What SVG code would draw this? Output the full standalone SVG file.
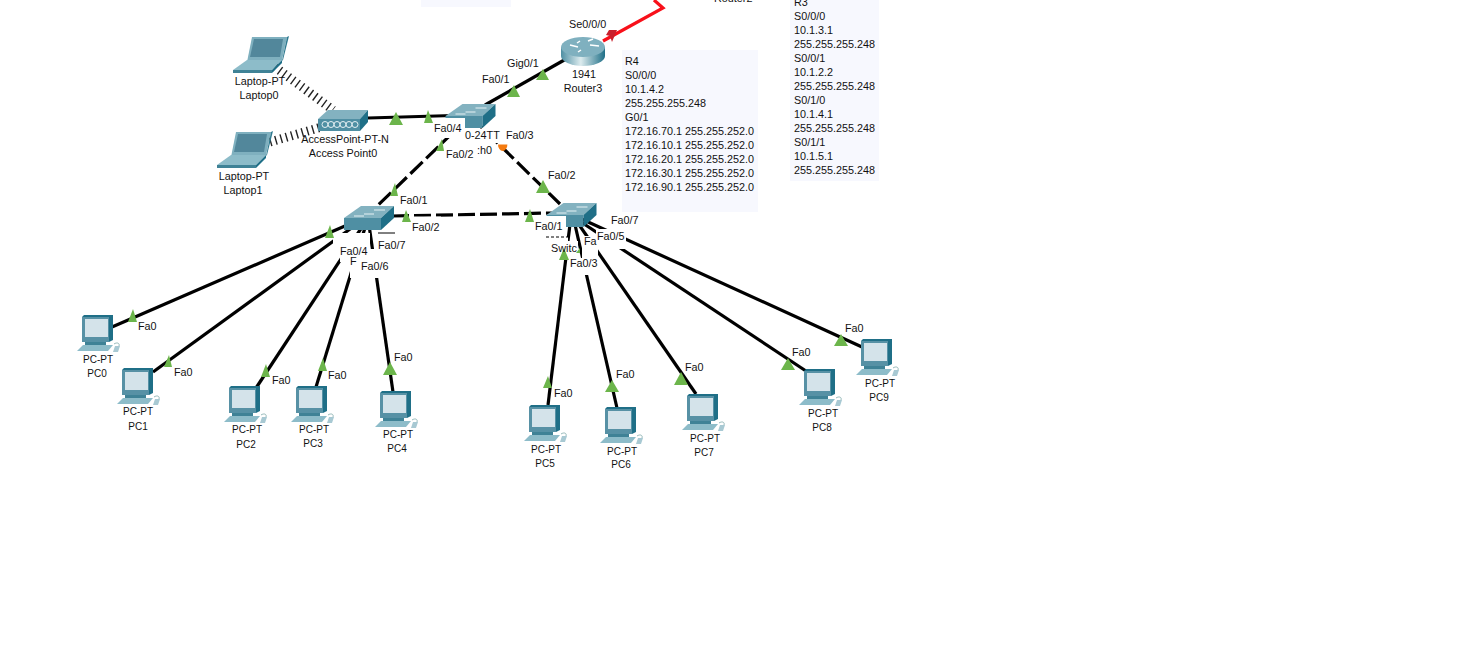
<svg xmlns="http://www.w3.org/2000/svg" width="1458" height="660" viewBox="0 0 1458 660">
<style>
text{font-family:"Liberation Sans",Arial,sans-serif;font-size:10.8px;fill:#111}
text.p{font-size:10px}
.c{text-anchor:middle}
.l{fill:none;stroke:#000;stroke-width:3.2}
.d{stroke-dasharray:17 5}
.w{fill:none;stroke:#222;stroke-width:9;stroke-dasharray:1.4 4.1}
.g{fill:#6cb54b}
.note{fill:#f7f8fe}
.bg{fill:#fff}
</style>
<defs>
<linearGradient id="rt" x1="0" x2="1" y1="0" y2="0"><stop offset="0" stop-color="#4f8fa3"/><stop offset=".45" stop-color="#dcebee"/><stop offset="1" stop-color="#1f6f87"/></linearGradient>
<g id="pc">
<path d="M-10-17H19V8L15 10V-15H-12z" fill="#1f6f87"/>
<path d="M-12-15H15V10H-12z" fill="#5791a5"/>
<rect x="-9" y="-13" width="23" height="18" fill="#d4e3ea"/>
<path d="M-9 10H12V13H-9z" fill="#3f8296"/>
<path d="M-11 13H19L14 19H-17z" fill="#8dbcc9"/>
<path d="M19 20l2-6h5l-2 6z" fill="#a8c9d3"/><path d="M20 12c3-2 6-1 5 2" fill="none" stroke="#9bb" stroke-width="1"/>
</g>
<g id="lap">
<path d="M-11-21H24L19 2L-16 4z" fill="#7fb0bf"/><path d="M24-21l2-1-6 24-1 1z" fill="#2f7a90"/><path d="M-9-19H20L17-1H-13z" fill="#52879b"/>
<path d="M-16 2H19L9 12H-30z" fill="#8dbcc9"/><path d="M-30 12H9V15H-30z" fill="#3f8296"/><path d="M9 12L19 2V5L9 15z" fill="#1f6f87"/>
</g>
<g id="sw">
<path d="M-25 0L-8-12H25L12 0z" fill="#83b2c0"/><path d="M-25 0H12V12H-25z" fill="#4f8fa3"/><path d="M12 0L25-12V0L12 12z" fill="#1f6f87"/>
<path d="M-5-4H5M5-8H16M-15-2H-5" stroke="#e5f1f4" stroke-width="1"/>
</g>
</defs>
<rect width="1458" height="660" fill="#fff"/>
<g id="notes">
<rect class="note" x="421" y="0" width="90" height="7"/>
<rect class="note" x="622" y="50" width="136" height="162"/>
<rect class="note" x="790" y="0" width="89" height="181"/>
</g>
<g id="connectors">
<path d="M603 41L663 8L654 0" fill="none" stroke="#f8101a" stroke-width="3.2"/>
<path class="l" d="M368 118L470 115"/>
<path class="l" d="M485 105L566 59"/>
<path class="l d" d="M470 116L560 204"/>
<path class="l d" d="M470 116L372 211"/>
<path class="l d" d="M392 216L553 213"/>
<path class="l" d="M112 327L368 216"/>
<path class="l" d="M153 372L368 216"/>
<path class="l" d="M256 388L368 218"/>
<path class="l" d="M316 387L368 218"/>
<path class="l" d="M393 392L368 218"/>
<path class="l" d="M548 405L571 216"/>
<path class="l" d="M617 408L573 216"/>
<path class="l" d="M696 394L573 216"/>
<path class="l" d="M806 371L572 216"/>
<path class="l" d="M862 347L575 216"/>
<path class="w" d="M275 67L333 110"/>
<path class="w" d="M270 142L325 126"/>
</g>
<g id="Laptop0"><use href="#lap" x="263" y="58"/><text class="c" x="260" y="85">Laptop-PT</text><text class="c" x="259" y="99">Laptop0</text></g>
<g id="Laptop1"><use href="#lap" x="247" y="153"/><text class="c" x="244" y="180">Laptop-PT</text><text class="c" x="243" y="194">Laptop1</text></g>
<g id="AccessPoint0">
<path d="M318 119L328 110H368L360 119z" fill="#83b2c0"/><path d="M318 119H360V131H318z" fill="#4f8fa3"/><path d="M360 119L368 110V122L360 131z" fill="#1f6f87"/>
<g fill="none" stroke="#e5f1f4" stroke-width="1"><circle cx="325" cy="124.500" r="3"/><circle cx="331" cy="124.500" r="3"/><circle cx="337" cy="124.500" r="3"/><circle cx="343" cy="124.500" r="3"/><circle cx="349" cy="124.500" r="3"/><circle cx="355" cy="124.500" r="3"/></g>
<text class="c" x="345" y="143">AccessPoint-PT-N</text><text class="c" x="343" y="157">Access Point0</text>
</g>
<g id="Router3">
<ellipse cx="583" cy="56" rx="22" ry="10" fill="url(#rt)"/><path d="M561 47H605V56H561z" fill="url(#rt)"/><ellipse cx="583" cy="47" rx="22" ry="10" fill="#7fb0bf"/>
<path d="M570 45l8 2M580 41l-3 2M590 45l9 1M588 41l5-2M581 50l-3 2" stroke="#fff" stroke-width="1.500"/>
<text class="c" x="584" y="78">1941</text><text class="c" x="583" y="92">Router3</text>
</g>
<g id="Switch0"><use href="#sw" x="470.500" y="116"/></g>
<g id="Switch1"><use href="#sw" x="369" y="218"/></g>
<g id="Switch2"><use href="#sw" x="571.500" y="215"/></g>
<g id="PC0"><use href="#pc" x="94" y="332"/><text class="c p" x="98" y="363">PC-PT</text><text class="c p" x="97" y="377">PC0</text></g>
<g id="PC1"><use href="#pc" x="134" y="385"/><text class="c p" x="138" y="415">PC-PT</text><text class="c p" x="138" y="430">PC1</text></g>
<g id="PC2"><use href="#pc" x="241" y="403"/><text class="c p" x="247" y="433">PC-PT</text><text class="c p" x="246" y="448">PC2</text></g>
<g id="PC3"><use href="#pc" x="308" y="403"/><text class="c p" x="314" y="433">PC-PT</text><text class="c p" x="313" y="447">PC3</text></g>
<g id="PC4"><use href="#pc" x="392" y="408"/><text class="c p" x="398" y="438">PC-PT</text><text class="c p" x="397" y="452">PC4</text></g>
<g id="PC5"><use href="#pc" x="541" y="422"/><text class="c p" x="546" y="453">PC-PT</text><text class="c p" x="545" y="467">PC5</text></g>
<g id="PC6"><use href="#pc" x="617" y="424"/><text class="c p" x="622" y="455">PC-PT</text><text class="c p" x="621" y="468">PC6</text></g>
<g id="PC7"><use href="#pc" x="699" y="411"/><text class="c p" x="705" y="442">PC-PT</text><text class="c p" x="704" y="456">PC7</text></g>
<g id="PC8"><use href="#pc" x="816" y="386"/><text class="c p" x="823" y="417">PC-PT</text><text class="c p" x="822" y="431">PC8</text></g>
<g id="PC9"><use href="#pc" x="873" y="356"/><text class="c p" x="880" y="387">PC-PT</text><text class="c p" x="879" y="401">PC9</text></g>
<g id="label-backgrounds">
<rect class="bg" x="433" y="118" width="32" height="20"/>
<rect class="bg" x="445" y="146" width="30" height="17"/>
<rect class="bg" x="464" y="129" width="36" height="14"/>
<rect class="bg" x="476" y="142" width="16" height="13"/>
<rect class="bg" x="505" y="129" width="30" height="14"/>
<rect class="bg" x="411" y="216.500" width="30" height="18"/>
<rect class="bg" x="398" y="195" width="30" height="14"/>
<rect class="bg" x="333" y="233" width="37" height="18"/>
<rect class="bg" x="377" y="237" width="30" height="16"/>
<rect class="bg" x="340" y="249" width="36" height="13"/>
<rect class="bg" x="350" y="258" width="40" height="20"/>
<path d="M378 233H395" stroke="#000" stroke-width="1"/>
<rect class="bg" x="534" y="216" width="32" height="20"/>
<rect class="bg" x="549" y="241" width="29" height="17"/>
<rect class="bg" x="553" y="237" width="15" height="5"/>
<path d="M546 237H568" stroke="#000" stroke-width="1" stroke-dasharray="3 2"/>
<rect class="bg" x="568" y="258" width="32" height="17"/>
<rect class="bg" x="582" y="236" width="16" height="24"/>
<rect class="bg" x="596" y="229" width="30" height="20"/>
<rect class="bg" x="609" y="212" width="30" height="15"/>
</g>
<g id="link-lights">
<path class="g" d="M389 125H403L396 112z"/>
<path class="g" d="M424 123H433L428 110z"/>
<path class="g" d="M536 80H549L543 69z"/>
<path class="g" d="M507 97H520L514 85z"/>
<path class="g" d="M536 193H550L543 180z"/>
<path class="g" d="M436 151H444L442 139z"/>
<path class="g" d="M390 196H398L395 183z"/>
<path class="g" d="M402 222H411L406 210z"/>
<path class="g" d="M525 222H534L530 209z"/>
<path class="g" d="M128 322H137L133 309z"/>
<path class="g" d="M164 367H172L169 355z"/>
<path class="g" d="M261 377H270L266 364z"/>
<path class="g" d="M318 371H327L323 358z"/>
<path class="g" d="M383 375H397L390 362z"/>
<path class="g" d="M543 388H552L548 376z"/>
<path class="g" d="M605 392H619L612 380z"/>
<path class="g" d="M674 385H688L681 372z"/>
<path class="g" d="M781 370H795L788 358z"/>
<path class="g" d="M834 346H848L841 334z"/>
<path class="g" d="M325 238H334L330 225z"/>
<path class="g" d="M559 260H569L564 248z"/>
<path class="g" d="M576 253H580V248z"/>
<path d="M498 144.500a4.700 6.500 0 0 0 9.400 0z" fill="#f47a10"/>
<path d="M609 30H617L612 42L610 36L606 35z" fill="#c9212d"/>
</g>
<g id="port-labels">
<text x="569" y="28">Se0/0/0</text><text x="507" y="67">Gig0/1</text><text x="482" y="83">Fa0/1</text>
<text x="434" y="132">Fa0/4</text><text x="446" y="158">Fa0/2</text><text x="506" y="139">Fa0/3</text><text x="548" y="179">Fa0/2</text>
<text x="465" y="139">0-24TT</text><text x="477" y="154">:h0</text>
<text x="400" y="204">Fa0/1</text><text x="412" y="231">Fa0/2</text><text x="378" y="249">Fa0/7</text><text x="361" y="270">Fa0/6</text>
<text x="340" y="255">Fa0/4</text><text x="350" y="265">F</text>
<text x="535" y="230">Fa0/1</text><text x="611" y="224">Fa0/7</text><text x="597" y="240">Fa0/5</text><text x="584" y="245">Fa</text><text x="570" y="267">Fa0/3</text><text x="551" y="252">Switc</text>
<text x="138" y="330">Fa0</text><text x="174" y="376">Fa0</text><text x="272" y="384">Fa0</text><text x="328" y="379">Fa0</text><text x="394" y="361">Fa0</text>
<text x="554" y="397">Fa0</text><text x="616" y="378">Fa0</text><text x="685" y="371">Fa0</text><text x="792" y="356">Fa0</text><text x="845" y="332">Fa0</text>
</g>
<g id="note-R4">
<text x="625" y="65">R4</text><text x="625" y="79">S0/0/0</text><text x="625" y="93">10.1.4.2</text><text x="625" y="107">255.255.255.248</text><text x="625" y="121">G0/1</text>
<text x="625" y="135">172.16.70.1 255.255.252.0</text><text x="625" y="149">172.16.10.1 255.255.252.0</text><text x="625" y="163">172.16.20.1 255.255.252.0</text><text x="625" y="177">172.16.30.1 255.255.252.0</text><text x="625" y="191">172.16.90.1 255.255.252.0</text>
</g>
<g id="note-R3">
<text x="794" y="6">R3</text><text x="794" y="20">S0/0/0</text><text x="794" y="34">10.1.3.1</text><text x="794" y="48">255.255.255.248</text><text x="794" y="62">S0/0/1</text><text x="794" y="76">10.1.2.2</text><text x="794" y="90">255.255.255.248</text><text x="794" y="104">S0/1/0</text><text x="794" y="118">10.1.4.1</text><text x="794" y="132">255.255.255.248</text><text x="794" y="146">S0/1/1</text><text x="794" y="160">10.1.5.1</text><text x="794" y="174">255.255.255.248</text>
</g>
<text x="714" y="2">Router2</text>
</svg>
